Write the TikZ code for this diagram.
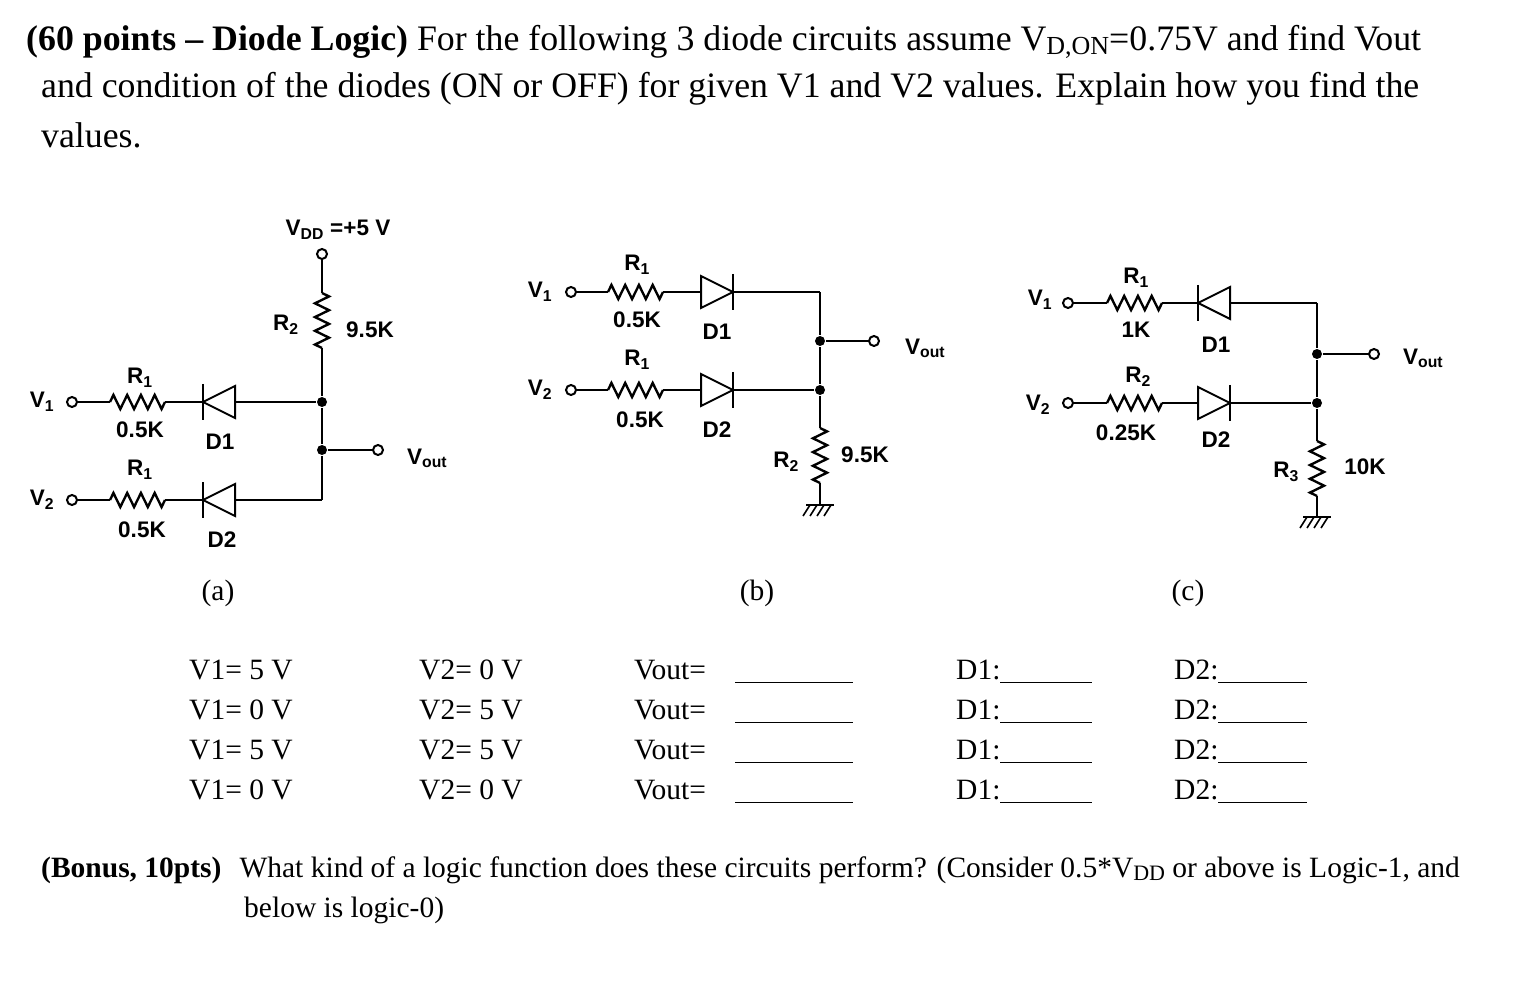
\documentclass[tikz,border=0pt]{standalone}
\usepackage{fontspec}
\setmainfont{Liberation Serif}
\newfontfamily\hv{Liberation Sans}
\usetikzlibrary{decorations.pathmorphing}
\begin{document}
\begin{tikzpicture}[x=1pt,y=-1pt,line width=2.4pt,
  res/.style={decorate,decoration={zigzag,segment length=13.75pt,amplitude=7pt}},
  term/.style={circle,draw,fill=white,line width=2pt,inner sep=0pt,minimum size=10pt},
  dot/.style={circle,fill,inner sep=0pt,minimum size=10pt},
  sl/.style={font=\hv\bfseries\fontsize{22.5}{26}\selectfont,inner sep=0pt},
  tt/.style={font=\fontsize{29.5}{34}\selectfont,anchor=west,inner sep=0pt},
  ul/.style={line width=1pt}]
\useasboundingbox (0,0) rectangle (1516,992);
\newcommand{\diodeR}[2]{\draw[line width=2pt,fill=white] (#1-16,#2-16)--(#1-16,#2+16)--(#1+16,#2)--cycle; \draw (#1+16,#2-18)--(#1+16,#2+18);}
\newcommand{\diodeL}[2]{\draw[line width=2pt,fill=white] (#1+16,#2-16)--(#1+16,#2+16)--(#1-16,#2)--cycle; \draw (#1-16,#2-18)--(#1-16,#2+18);}
\newcommand{\gnd}[2]{\draw (#1,#2-14)--(#1,#2); \draw[line width=2pt] (#1-14,#2)--(#1+14,#2);
  \foreach \k in {-10,-3,4,11} \draw[line width=1.6pt] (#1+\k,#2)--(#1+\k-7,#2+11);}
% Title
\node[anchor=west,inner sep=0pt,font=\fontsize{35.8}{40}\selectfont] (t1) at (25,42) {\textbf{(60 points -- Diode Logic)} For the following 3 diode circuits assume V\raisebox{-0.25ex}{\fontsize{26}{30}\selectfont D,ON}=0.75V and find Vout};
\node[anchor=west,inner sep=0pt,font=\fontsize{35.8}{40}\selectfont] (t2) at (40,89) {and condition of the diodes (ON or OFF) for given V1 and V2 values. Explain how you find the};
\node[anchor=west,inner sep=0pt,font=\fontsize{35.8}{40}\selectfont] (t3) at (40,135) {values.};
% ---------- (a)
\node[term] (aVdd) at (322,254) {};
\node[sl] (aVddL) at (338,230) {V\textsubscript{DD} =+5 V};
\coordinate (aR2t) at (322,293); \coordinate (aR2b) at (322,348);
\node[dot] (aJ1) at (322,402) {}; \node[dot] (aJ2) at (322,450) {};
\coordinate (aC2) at (322,500);
\draw (aVdd)--(aR2t); \draw[res] (aR2t)--(aR2b); \draw (aR2b)--(aJ1)--(aJ2)--(aC2);
\node[sl] at (286,325) {R\textsubscript{2}}; \node[sl] at (370,330) {9.5K};
\node[term] (aV1) at (72,402) {}; \node[sl] at (42,402) {V\textsubscript{1}};
\coordinate (aR1a) at (110,402); \coordinate (aR1b) at (165,402);
\draw (aV1)--(aR1a); \draw[res] (aR1a)--(aR1b); \draw (aR1b)--(203,402); \draw (235,402)--(aJ1);
\diodeL{219}{402}
\node[sl] at (140,378) {R\textsubscript{1}}; \node[sl] at (140,430) {0.5K}; \node[sl] at (220,442) {D1};
\node[term] (aV2) at (72,500) {}; \node[sl] at (42,500) {V\textsubscript{2}};
\coordinate (aR1c) at (110,500); \coordinate (aR1d) at (165,500);
\draw (aV2)--(aR1c); \draw[res] (aR1c)--(aR1d); \draw (aR1d)--(203,500); \draw (235,500)--(aC2);
\diodeL{219}{500}
\node[sl] at (140,470) {R\textsubscript{1}}; \node[sl] at (142,530) {0.5K}; \node[sl] at (222,540) {D2};
\node[term] (aVo) at (378,450) {}; \draw (aJ2)--(aVo);
\node[sl,anchor=west] at (406,458) {V\textsubscript{out}};
% ---------- (b)
\node[term] (bV1) at (571,292) {}; \node[sl] at (540,292) {V\textsubscript{1}};
\coordinate (bRa) at (608,292); \coordinate (bRb) at (663,292); \coordinate (bC1) at (820,292);
\draw (bV1)--(bRa); \draw[res] (bRa)--(bRb); \draw (bRb)--(701,292); \draw (733,292)--(bC1);
\diodeR{717}{292}
\node[sl] at (637,265) {R\textsubscript{1}}; \node[sl] at (637,320) {0.5K}; \node[sl] at (717,332) {D1};
\node[term] (bV2) at (571,390) {}; \node[sl] at (540,390) {V\textsubscript{2}};
\coordinate (bRc) at (608,390); \coordinate (bRd) at (663,390);
\node[dot] (bJ1) at (820,341) {}; \node[dot] (bJ2) at (820,390) {};
\draw (bV2)--(bRc); \draw[res] (bRc)--(bRd); \draw (bRd)--(701,390); \draw (733,390)--(bJ2);
\diodeR{717}{390}
\node[sl] at (637,360) {R\textsubscript{1}}; \node[sl] at (640,420) {0.5K}; \node[sl] at (717,430) {D2};
\draw (bC1)--(bJ1)--(bJ2);
\node[term] (bVo) at (874,341) {}; \draw (bJ1)--(bVo);
\node[sl,anchor=west] at (904,348) {V\textsubscript{out}};
\coordinate (bR2t) at (820,428); \coordinate (bR2b) at (820,483);
\draw (bJ2)--(bR2t); \draw[res] (bR2t)--(bR2b); \draw (bR2b)--(820,505);
\gnd{820}{505}
\node[sl] at (786,462) {R\textsubscript{2}}; \node[sl] at (865,455) {9.5K};
% ---------- (c)
\node[term] (cV1) at (1068,303) {}; \node[sl] at (1040,300) {V\textsubscript{1}};
\coordinate (cRa) at (1107,303); \coordinate (cRb) at (1162,303); \coordinate (cC1) at (1317,303);
\draw (cV1)--(cRa); \draw[res] (cRa)--(cRb); \draw (cRb)--(1198,303); \draw (1230,303)--(cC1);
\diodeL{1214}{303}
\node[sl] at (1136,278) {R\textsubscript{1}}; \node[sl] at (1136,330) {1K}; \node[sl] at (1216,345) {D1};
\node[term] (cV2) at (1068,403) {}; \node[sl] at (1038,405) {V\textsubscript{2}};
\coordinate (cRc) at (1107,403); \coordinate (cRd) at (1162,403);
\node[dot] (cJ1) at (1317,354) {}; \node[dot] (cJ2) at (1317,403) {};
\draw (cV2)--(cRc); \draw[res] (cRc)--(cRd); \draw (cRd)--(1198,403); \draw (1230,403)--(cJ2);
\diodeR{1214}{403}
\node[sl] at (1138,377) {R\textsubscript{2}}; \node[sl] at (1126,433) {0.25K}; \node[sl] at (1216,440) {D2};
\draw (cC1)--(cJ1)--(cJ2);
\node[term] (cVo) at (1374,354) {}; \draw (cJ1)--(cVo);
\node[sl,anchor=west] at (1402,358) {V\textsubscript{out}};
\coordinate (cR3t) at (1317,441); \coordinate (cR3b) at (1317,496);
\draw (cJ2)--(cR3t); \draw[res] (cR3t)--(cR3b); \draw (cR3b)--(1317,517);
\gnd{1317}{517}
\node[sl] at (1286,472) {R\textsubscript{3}}; \node[sl] at (1365,467) {10K};
% ---------- captions
\node[font=\fontsize{29.5}{34}\selectfont] (ca) at (218,593) {(a)};
\node[font=\fontsize{29.5}{34}\selectfont] (cb) at (757,593) {(b)};
\node[font=\fontsize{29.5}{34}\selectfont] (cc) at (1188,593) {(c)};
% ---------- table
\foreach \y/\a/\b in {670/5/0,710/0/5,750/5/5,790/0/0}{
  \node[tt] at (188,\y) {V1= \a\ V};
  \node[tt] at (418,\y) {V2= \b\ V};
  \node[tt] at (633,\y) {Vout=};
  \draw[ul] (735,\y+12)--(853,\y+12);
  \node[tt] at (955,\y) {D1:};
  \draw[ul] (1000,\y+12)--(1092,\y+12);
  \node[tt] at (1173,\y) {D2:};
  \draw[ul] (1218,\y+12)--(1307,\y+12);
}
\node[tt] (b1) at (40,870) {\textbf{(Bonus, 10pts)}\hspace{18pt}What kind of a logic function does these circuits perform? (Consider 0.5*V\raisebox{-0.25ex}{\fontsize{22}{26}\selectfont DD} or above is Logic-1, and};
\node[tt] (b2) at (243,910) {below is logic-0)};
\end{tikzpicture}
\end{document}
